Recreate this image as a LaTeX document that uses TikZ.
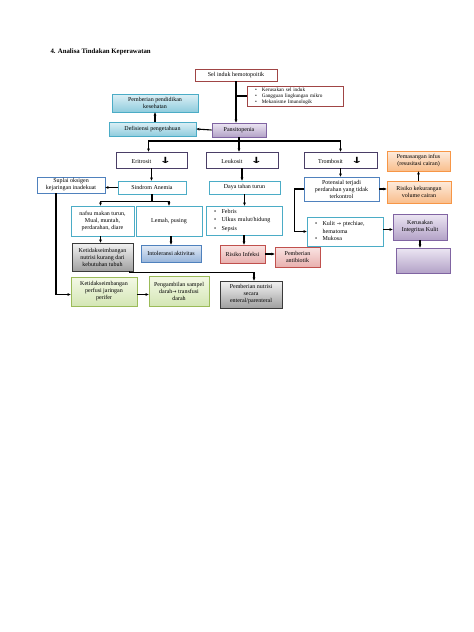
\documentclass[tikz,border=0pt]{standalone}
\usepackage{fontspec}
\setmainfont{Liberation Serif}
\newfontfamily\symfont{DejaVu Sans}
\usetikzlibrary{arrows.meta,shadows}
\newcommand{\dnar}{\scalebox{1.7}[1]{\symfont\bfseries\fontsize{8.5}{8}\selectfont ↓}}
\newcommand{\rar}{{\symfont\fontsize{5}{5}\selectfont →}}
\definecolor{redb}{HTML}{A04545}
\definecolor{cyanb}{HTML}{4BACC6}
\definecolor{cyant}{HTML}{DDF0F6}
\definecolor{cyanbot}{HTML}{8FCCDD}
\definecolor{blueb}{HTML}{4F81BD}
\definecolor{navyb}{HTML}{4A3E66}
\definecolor{purb}{HTML}{8064A2}
\definecolor{purt}{HTML}{ECE6F3}
\definecolor{purbot}{HTML}{B3A2C7}
\definecolor{grayb}{HTML}{3A3A3A}
\definecolor{grayt}{HTML}{F2F2F2}
\definecolor{graybot}{HTML}{A0A0A0}
\definecolor{bluet}{HTML}{E3EBF6}
\definecolor{bluebot}{HTML}{98B5DA}
\definecolor{greenb}{HTML}{9BBB59}
\definecolor{greent}{HTML}{F4F9E6}
\definecolor{greenbot}{HTML}{D4E6B5}
\definecolor{pinkb}{HTML}{C0504D}
\definecolor{pinkt}{HTML}{FAE4E3}
\definecolor{pinkbot}{HTML}{E8B0AE}
\definecolor{orb}{HTML}{F79646}
\definecolor{ort}{HTML}{FDEBDD}
\definecolor{orbot}{HTML}{F9BE8C}
\begin{document}
\begin{tikzpicture}[x=1pt,y=-1pt,
  every node/.style={font=\fontsize{6}{7}\selectfont},
  bx/.style={draw, line width=0.7pt, align=center, inner sep=0.5pt, fill=white},
  wh/.style 2 args={minimum width=#1pt, minimum height=#2pt},
  sh/.style={drop shadow={shadow xshift=0.8pt, shadow yshift=-0.8pt, opacity=0.3}},
  cyanfill/.style={bx, sh, draw=cyanb, top color=cyant, bottom color=cyanbot},
  purfill/.style={bx, sh, draw=purb, top color=purt, bottom color=purbot},
  grayfill/.style={bx, sh, draw=grayb, top color=grayt, bottom color=graybot},
  bluefill/.style={bx, sh, draw=blueb, top color=bluet, bottom color=bluebot},
  greenfill/.style={bx, sh, draw=greenb, top color=greent, bottom color=greenbot},
  pinkfill/.style={bx, sh, draw=pinkb, top color=pinkt, bottom color=pinkbot},
  orfill/.style={bx, sh, draw=orb, top color=ort, bottom color=orbot},
  arr/.style={line width=1.1pt, -{Stealth[length=3.2pt,width=2.8pt]}},
  ln/.style={line width=1.1pt}
]
\useasboundingbox (0,0) rectangle (474,632);

\node[anchor=west, font=\bfseries\fontsize{6.8}{8}\selectfont] (title) at (47,52) {4. Analisa Tindakan Keperawatan};

% top
\node[bx, draw=redb, wh={82}{12}] (sel) at (236,75) {Sel induk hemotopoitik};
\node[bx, draw=redb, align=left, text width=80pt, inner xsep=8pt, minimum height=20pt,
      font=\fontsize{5.2}{5.8}\selectfont] (bulsel) at (295,96)
  {\textbullet\hspace{5pt}Kerusakan sel induk\\\textbullet\hspace{5pt}Gangguan lingkungan mikro\\\textbullet\hspace{5pt}Mekanisme Imunologik};
\node[purfill, wh={54}{14}] (pans) at (239,130) {Pansitopenia};
\node[cyanfill, wh={87}{14}] (defis) at (152.5,129) {Defisiensi pengetahuan};
\node[cyanfill, wh={86}{18}] (pend) at (155,103) {Pemberian pendidikan\\kesehatan};

% second row
\node[bx, draw=navyb, wh={71}{16}] (eri) at (151.5,160) {Eritrosit\hspace{8pt}\dnar};
\node[bx, draw=navyb, wh={72}{16}] (leuk) at (242,160) {Leukosit\hspace{8pt}\dnar};
\node[bx, draw=navyb, wh={73}{16}] (trom) at (340.5,160) {Trombosit\hspace{8pt}\dnar};

% eritrosit branch
\node[bx, draw=cyanb, wh={68}{13}] (anemia) at (152,187.5) {Sindrom Anemia};
\node[bx, draw=blueb, wh={68}{16}] (suplai) at (71,185) {Suplai oksigen\\kejaringan inadekuat};
\node[bx, draw=cyanb, wh={63}{30}] (nafsu) at (102.5,221) {nafsu makan turun,\\Mual, muntah,\\perdarahan, diare};
\node[bx, draw=cyanb, wh={66}{30}] (lemah) at (169,221) {Lemah, pusing};
\node[grayfill, wh={61}{28}] (nutrisi) at (102.5,257) {Ketidakseimbangan\\nutrisi kurang dari\\kebutuhan tubuh};
\node[bluefill, wh={60}{17}] (intol) at (171,253.5) {Intoleransi aktivitas};
\node[greenfill, wh={66}{29}] (perfusi) at (104,291.5) {Ketidakseimbangan\\perfusi jaringan\\perifer};
\node[greenfill, wh={60}{30}] (sampel) at (179,291) {Pengambilan sampel\\darah\rar\ transfusi\\darah};
\node[grayfill, wh={62}{27}] (enteral) at (251,294.5) {Pemberian nutrisi\\secara\\enteral/parenteral};

% leukosit branch
\node[bx, draw=cyanb, wh={71}{13}] (daya) at (244.5,187.5) {Daya tahan turun};
\node[bx, draw=cyanb, align=left, text width=60pt, inner xsep=8pt, minimum height=29pt,
      font=\fontsize{6}{8.3}\selectfont] (febris) at (244,220.5)
  {\textbullet\hspace{5.5pt}Febris\\\textbullet\hspace{5.5pt}Ulkus mulut/hidung\\\textbullet\hspace{5.5pt}Sepsis};
\node[pinkfill, wh={45}{18}] (rinf) at (242.5,254) {Risiko Infeksi};
\node[pinkfill, wh={45}{20}] (antib) at (297.5,257) {Pemberian\\antibiotik};

% trombosit branch
\node[bx, draw=blueb, wh={75}{24}] (pot) at (341.5,189) {Potensial terjadi\\perdarahan yang tidak\\terkontrol};
\node[bx, draw=cyanb, align=left, text width=60pt, inner xsep=8pt, minimum height=29pt,
      font=\fontsize{6}{7.5}\selectfont] (kulit) at (345,231.5)
  {\begin{tabular}{@{}l@{\hspace{5.5pt}}l@{}}\textbullet & Kulit \rar\ ptechiae,\\ & hematoma\\ \textbullet & Mukosa\end{tabular}};
\node[orfill, wh={63}{20}] (infus) at (418.5,161) {Pemasangan infus\\(resusitasi cairan)};
\node[orfill, wh={64}{22}] (rkvc) at (419,192) {Risiko kekurangan\\volume cairan};
\node[purfill, wh={54}{26}] (kik) at (420,227) {Kerusakan\\Integritas Kulit};
\node[purfill, wh={54}{25}] (empty) at (423,260.5) {};

% connectors top
\draw[arr] (sel.south) -- (sel.south |- pans.north);
\draw[ln] (bulsel.west) -- (sel.south |- bulsel.west);
\draw[arr] (pans.west) -- (defis.east);
\draw[arr] (defis.north -| pend.south) -- (pend.south);
\coordinate (hj) at (239,141);
\draw[ln] (pans.south) -- (hj);
\draw[arr] (hj) -| ([xshift=-3pt]eri.north);
\draw[arr] (hj) -| (trom.north);
\draw[arr] (hj) -- (hj |- leuk.north);

% eritrosit
\draw[arr] (eri.south) -- (eri.south |- anemia.north);
\draw[arr] (anemia.west) -- (anemia.west -| suplai.east);
\coordinate (aj) at (152,201.5);
\draw[ln] (anemia.south) -- (aj);
\draw[arr] (aj) -| ([xshift=-2pt]nafsu.north);
\draw[arr] (aj) -| (lemah.north);
\draw[arr] ([xshift=-2pt]nafsu.south) -- ([xshift=-2pt]nafsu.south |- nutrisi.north);
\draw[arr] ([xshift=2pt]lemah.south) -- ([xshift=2pt]lemah.south |- intol.north);
\draw[arr] ([xshift=-15pt]suplai.south) |- ([yshift=-3pt]perfusi.west);
\draw[arr] ([yshift=-3pt]perfusi.east) -- ([yshift=-3pt]perfusi.east -| sampel.west);
\draw[arr] ([xshift=-4pt]nutrisi.south east) -- ++(0,1.5) -| ([xshift=3pt]enteral.north);

% leukosit
\draw[arr] (leuk.south) -- (leuk.south |- daya.north);
\draw[arr] (daya.south) -- (daya.south |- febris.north);
\draw[arr] (febris.south) -- (febris.south |- rinf.north);
\draw[arr] (rinf.east) -- (rinf.east -| antib.west);

% trombosit
\draw[arr] (trom.south) -- (trom.south |- pot.north);
\draw[arr] (pot.west) -- ++(-9,0) |- (kulit.west);
\draw[arr] (pot.east) -- (pot.east -| rkvc.west);
\draw[arr] (rkvc.north -| infus.south) -- (infus.south);
\draw[arr] ([yshift=2pt]kulit.east) -- ([yshift=2pt]kulit.east -| kik.west);
\draw[arr] (kik.south) -- (kik.south |- empty.north);
\end{tikzpicture}
\end{document}
